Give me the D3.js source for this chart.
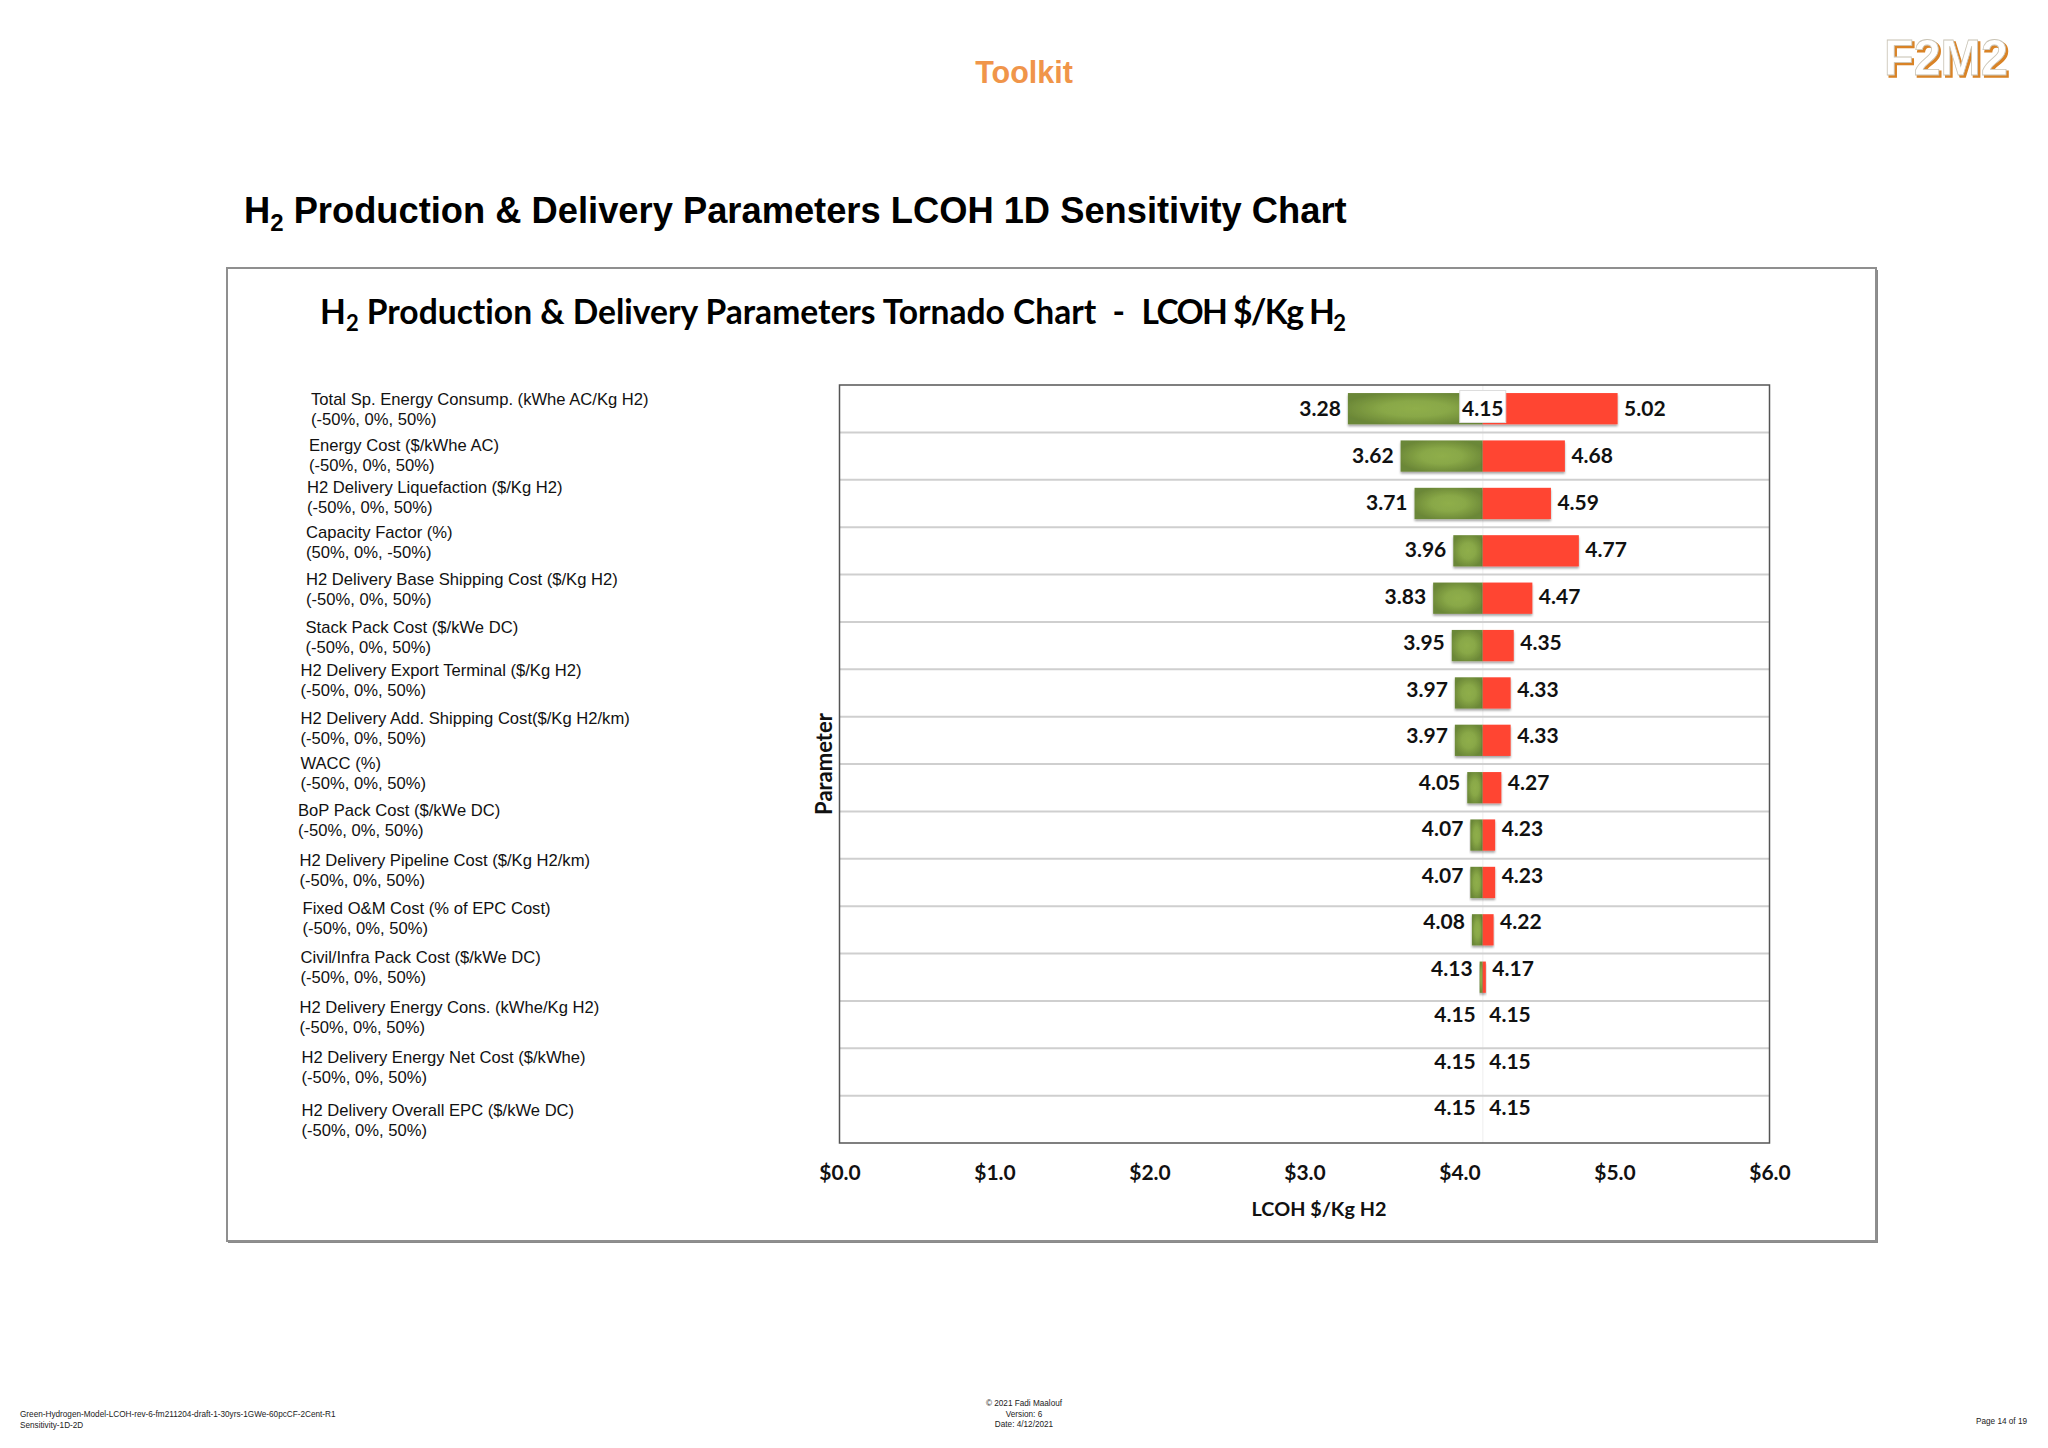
<!DOCTYPE html>
<html>
<head>
<meta charset="utf-8">
<script src="https://cdn.jsdelivr.net/npm/d3@7"></script>
<style>
  html, body { margin: 0; padding: 0; background: #fff; }
  svg { display: block; }
  .arial { font-family: "Liberation Sans", Arial, sans-serif; }
  .calibri { font-family: Lato, sans-serif; font-weight: 700; font-variant-ligatures: none; }
</style>
</head>
<body>
<svg id="chart" width="2048" height="1448"></svg>
<script>
// values
const parameters = [
  "Total Sp. Energy Consump. (kWhe AC/Kg H2)",
  "Energy Cost ($/kWhe AC)",
  "H2 Delivery Liquefaction ($/Kg H2)",
  "Capacity Factor (%)",
  "H2 Delivery Base Shipping Cost ($/Kg H2)",
  "Stack Pack Cost ($/kWe DC)",
  "H2 Delivery Export Terminal ($/Kg H2)",
  "H2 Delivery Add. Shipping Cost($/Kg H2/km)",
  "WACC (%)",
  "BoP Pack Cost ($/kWe DC)",
  "H2 Delivery Pipeline Cost ($/Kg H2/km)",
  "Fixed O&M Cost (% of EPC Cost)",
  "Civil/Infra Pack Cost ($/kWe DC)",
  "H2 Delivery Energy Cons. (kWhe/Kg H2)",
  "H2 Delivery Energy Net Cost ($/kWhe)",
  "H2 Delivery Overall EPC ($/kWe DC)"
];
const ranges = [
  "(-50%, 0%, 50%)", "(-50%, 0%, 50%)", "(-50%, 0%, 50%)", "(50%, 0%, -50%)",
  "(-50%, 0%, 50%)", "(-50%, 0%, 50%)", "(-50%, 0%, 50%)", "(-50%, 0%, 50%)",
  "(-50%, 0%, 50%)", "(-50%, 0%, 50%)", "(-50%, 0%, 50%)", "(-50%, 0%, 50%)",
  "(-50%, 0%, 50%)", "(-50%, 0%, 50%)", "(-50%, 0%, 50%)", "(-50%, 0%, 50%)"
];
const lowValues = [3.28, 3.62, 3.71, 3.96, 3.83, 3.95, 3.97, 3.97, 4.05, 4.07, 4.07, 4.08, 4.13, 4.15, 4.15, 4.15];
const highValues = [5.02, 4.68, 4.59, 4.77, 4.47, 4.35, 4.33, 4.33, 4.27, 4.23, 4.23, 4.22, 4.17, 4.15, 4.15, 4.15];
const baseValue = 4.15;
const xTicks = [0, 1, 2, 3, 4, 5, 6];

// the row captions in the source are hand placed text boxes
const captionX = [311, 309, 307, 306, 306, 305.5, 300.5, 300.5, 300.5, 298, 299.5, 302.5, 300.5, 299.5, 301.5, 301.5];
const captionY = [399, 445, 487, 532, 579, 627, 670, 718, 763, 810, 860, 908, 957, 1007, 1057, 1110];

const svg = d3.select("#chart");
const defs = svg.append("defs");

const green = defs.append("radialGradient").attr("id", "greenBar")
  .attr("cx", "50%").attr("cy", "50%").attr("r", "55%");
green.append("stop").attr("offset", "0%").attr("stop-color", "#8fae4b");
green.append("stop").attr("offset", "45%").attr("stop-color", "#89a847");
green.append("stop").attr("offset", "100%").attr("stop-color", "#6b8737");

const shadow = defs.append("filter").attr("id", "barShadow")
  .attr("x", "-10%").attr("y", "-20%").attr("width", "120%").attr("height", "150%");
shadow.append("feDropShadow").attr("dx", 0).attr("dy", 2).attr("stdDeviation", 1)
  .attr("flood-color", "#000").attr("flood-opacity", 0.35);

// page furniture
svg.append("text").attr("class", "arial")
  .attr("x", 1024).attr("y", 83).attr("text-anchor", "middle")
  .attr("font-size", 30.5).attr("font-weight", 700).attr("fill", "#f0954a")
  .text("Toolkit");

const logo = svg.append("g").attr("font-family", "'Liberation Sans', Arial, sans-serif")
  .attr("font-weight", 700).attr("font-size", 50);
logo.append("text").attr("x", 1886).attr("y", 77).attr("textLength", 124)
  .attr("lengthAdjust", "spacingAndGlyphs")
  .attr("fill", "#d98326").attr("stroke", "#d98326").attr("stroke-width", 1.5).text("F2M2");
logo.append("text").attr("x", 1884).attr("y", 75).attr("textLength", 124)
  .attr("lengthAdjust", "spacingAndGlyphs")
  .attr("fill", "#fff").attr("stroke", "#c9c4b6").attr("stroke-width", 0.8).text("F2M2");

const pageTitle = svg.append("text").attr("class", "arial")
  .attr("x", 244).attr("y", 223).attr("font-size", 36.3).attr("font-weight", 700).attr("fill", "#000");
pageTitle.append("tspan").text("H");
pageTitle.append("tspan").attr("font-size", 24).attr("dy", 8).text("2");
pageTitle.append("tspan").attr("dy", -8).text(" Production & Delivery Parameters LCOH 1D Sensitivity Chart");

// chart frame
svg.append("rect").attr("x", 228).attr("y", 270).attr("width", 1650).attr("height", 973)
  .attr("fill", "#8a8a8a");
svg.append("rect").attr("x", 227).attr("y", 268).attr("width", 1649).attr("height", 973)
  .attr("fill", "#fff").attr("stroke", "#8f8f8f").attr("stroke-width", 2);

const chartTitle = svg.append("text").attr("class", "calibri")
  .attr("x", 320).attr("y", 324).attr("font-size", 33.6).attr("fill", "#000");
chartTitle.append("tspan").text("H");
chartTitle.append("tspan").attr("font-size", 22).attr("dy", 7).text("2");
chartTitle.append("tspan").attr("dy", -7).text(" Production & Delivery Parameters Tornado Chart\u00a0\u00a0-\u00a0\u00a0");
chartTitle.append("tspan").attr("letter-spacing", -1.6).text("LCOH $/Kg H");
chartTitle.append("tspan").attr("font-size", 22).attr("dy", 7).text("2");

// scales
const plot = { left: 839.5, right: 1769.5, top: 385, bottom: 1143 };
const x = d3.scaleLinear().domain([0, 6]).range([plot.left, plot.right]);
const y = d3.scaleBand().domain(parameters).range([plot.top, plot.bottom]).paddingInner(0.34).paddingOuter(0.17);
const rowY = d3.scaleBand().domain(parameters).range([plot.top, plot.bottom]);
// value labels in the source sit on a slightly tighter pitch than the bars further down
const labelY = d3.scaleLinear().domain([0, 4, 15]).range([407, 595.5, 1106.5]);

const rows = parameters.map((p, i) => ({ name: p, range: ranges[i], low: lowValues[i], high: highValues[i], i }));

// row captions
const captions = svg.append("g").attr("class", "arial").attr("font-size", 16.6).attr("fill", "#111");
rows.forEach(d => {
  const t = captions.append("text").attr("x", captionX[d.i]).attr("y", captionY[d.i] + 6);
  t.append("tspan").attr("x", captionX[d.i]).text(d.name);
  t.append("tspan").attr("x", captionX[d.i]).attr("dy", 19.6).text(d.range);
});

// faint line at the base case
svg.append("line").attr("x1", x(baseValue)).attr("x2", x(baseValue))
  .attr("y1", plot.top).attr("y2", plot.bottom)
  .attr("stroke", "#f4f4f4").attr("stroke-width", 1.5);

// row separators
svg.append("g").selectAll("line").data(parameters.slice(1)).enter().append("line")
  .attr("x1", plot.left).attr("x2", plot.right)
  .attr("y1", d => rowY(d)).attr("y2", d => rowY(d))
  .attr("stroke", "#cfcfcf").attr("stroke-width", 2);

// bars
const bars = svg.append("g");
bars.selectAll("rect.low").data(rows.filter(d => d.low < baseValue)).enter().append("rect")
  .attr("class", "low")
  .attr("x", d => x(d.low)).attr("width", d => x(baseValue) - x(d.low))
  .attr("y", d => y(d.name)).attr("height", y.bandwidth())
  .attr("fill", "url(#greenBar)").attr("filter", "url(#barShadow)");
bars.selectAll("rect.high").data(rows.filter(d => d.high > baseValue)).enter().append("rect")
  .attr("class", "high")
  .attr("x", x(baseValue)).attr("width", d => x(d.high) - x(baseValue))
  .attr("y", d => y(d.name)).attr("height", y.bandwidth())
  .attr("fill", "#ff4533").attr("filter", "url(#barShadow)");

// plot border
svg.append("rect").attr("x", plot.left).attr("y", plot.top)
  .attr("width", plot.right - plot.left).attr("height", plot.bottom - plot.top)
  .attr("fill", "none").attr("stroke", "#555").attr("stroke-width", 1.5);

// value labels
const labels = svg.append("g").attr("class", "calibri").attr("font-size", 21).attr("fill", "#111");
labels.selectAll("text.low").data(rows).enter().append("text")
  .attr("class", "low").attr("text-anchor", "end").attr("dominant-baseline", "central")
  .attr("x", d => x(d.low) - 7).attr("y", d => labelY(d.i))
  .text(d => d.low.toFixed(2));
labels.selectAll("text.high").data(rows).enter().append("text")
  .attr("class", "high").attr("dominant-baseline", "central")
  .attr("x", d => x(d.high) + 6.5).attr("y", d => labelY(d.i))
  .text(d => d.high.toFixed(2));

// base case label on the first row
labels.append("rect").attr("x", x(baseValue) - 23).attr("y", labelY(0) - 16.5)
  .attr("width", 46).attr("height", 32).attr("fill", "#fff").attr("stroke", "#ddd");
labels.append("text").attr("text-anchor", "middle").attr("dominant-baseline", "central")
  .attr("x", x(baseValue)).attr("y", labelY(0))
  .text(baseValue.toFixed(2));

// x axis
const axis = svg.append("g").attr("class", "calibri")
  .attr("transform", `translate(0,${plot.bottom})`)
  .call(d3.axisBottom(x).tickValues(xTicks).tickFormat(d => "$" + d.toFixed(1)).tickSize(0).tickPadding(22));
axis.select(".domain").remove();
axis.selectAll("text").attr("font-family", "Lato, sans-serif").attr("font-weight", 700)
  .attr("font-size", 21).attr("fill", "#111");

svg.append("text").attr("class", "calibri")
  .attr("x", 1319).attr("y", 1216).attr("text-anchor", "middle")
  .attr("font-size", 19.8).attr("fill", "#111").text("LCOH $/Kg H2");

svg.append("text").attr("class", "calibri")
  .attr("transform", "translate(832,764) rotate(-90)").attr("text-anchor", "middle")
  .attr("font-size", 22).attr("fill", "#111").text("Parameter");

// footer
const footer = svg.append("g").attr("class", "arial").attr("font-size", 8.2).attr("fill", "#222");
footer.append("text").attr("x", 20).attr("y", 1417)
  .text("Green-Hydrogen-Model-LCOH-rev-6-fm211204-draft-1-30yrs-1GWe-60pcCF-2Cent-R1");
footer.append("text").attr("x", 20).attr("y", 1428).text("Sensitivity-1D-2D");
["© 2021 Fadi Maalouf", "Version: 6", "Date: 4/12/2021"].forEach((s, i) => {
  footer.append("text").attr("x", 1024).attr("y", 1406 + i * 10.5).attr("text-anchor", "middle").text(s);
});
footer.append("text").attr("x", 2027).attr("y", 1424).attr("text-anchor", "end").text("Page 14 of 19");
</script>
</body>
</html>
